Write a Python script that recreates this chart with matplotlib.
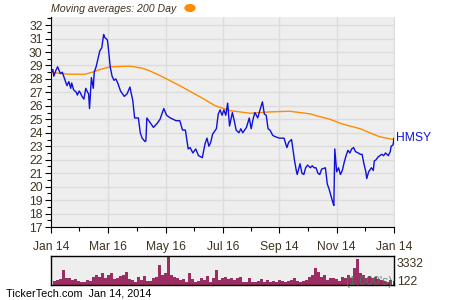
import matplotlib
matplotlib.use("Agg")
import matplotlib.pyplot as plt
import numpy as np

plt.rcParams['font.family'] = ['Liberation Sans', 'DejaVu Sans']

# days since Jan 14, 2013
price_days = [0, 2, 3, 5, 7, 10, 12, 14, 17, 19, 21, 22, 24, 27, 28, 30, 31, 33, 35, 37,
              39, 40, 41, 43, 45, 46, 48, 50, 52, 54, 56, 57, 60, 61, 63, 65, 67, 69, 71, 74,
              78, 81, 84, 87, 89, 93, 95, 97, 100, 101, 102, 105, 109, 113, 116, 120, 123, 127, 130, 133,
              137, 140, 143, 146, 148, 151, 154, 157, 161, 164, 166, 168, 170, 172, 176, 178, 180, 182, 184, 186,
              188, 190, 193, 195, 197, 200, 202, 204, 208, 211, 213, 215, 217, 220, 222, 225, 227, 229, 231, 233,
              236, 239, 243, 246, 248, 251, 253, 256, 259, 261, 262, 265, 267, 269, 271, 273, 276, 278, 280, 282,
              284, 286, 288, 292, 294, 296, 298, 300, 301, 302, 304, 306, 308, 310, 312, 314, 316, 318, 320, 322,
              324, 327, 329, 331, 333, 335, 336, 338, 341, 343, 344, 346, 348, 350, 352, 354, 356, 359, 361, 362,
              364, 365]
price = [28.45, 28.7, 28.2, 28.6, 28.9, 28.4, 28.5, 28.1, 27.5, 27.8, 27.3, 27.7, 27.2, 27.0, 26.8, 27.1, 27.0, 26.7, 26.5, 27.3,
         27.0, 26.9, 25.8, 28.1, 27.3, 28.5, 28.9, 29.5, 30.1, 30.3, 31.3, 31.1, 30.9, 30.3, 28.9, 28.2, 27.9, 28.0, 27.7, 27.1,
         26.7, 26.9, 27.4, 26.4, 25.1, 25.1, 24.0, 23.6, 23.35, 23.4, 25.1, 24.8, 24.4, 24.7, 25.0, 25.8, 25.3, 25.1, 25.0, 24.9,
         24.9, 24.2, 24.2, 22.8, 22.9, 22.5, 22.8, 22.3, 22.15, 23.2, 23.6, 23.0, 23.3, 23.9, 24.3, 25.4, 25.7, 25.3, 25.7, 25.3,
         26.2, 24.5, 25.5, 24.9, 24.2, 24.0, 24.3, 24.0, 24.4, 25.1, 24.3, 25.0, 25.5, 25.1, 25.6, 26.3, 25.4, 25.3, 24.3, 24.2,
         23.8, 23.7, 23.6, 23.6, 23.6, 22.9, 23.3, 23.5, 22.0, 21.2, 20.9, 21.7, 21.0, 20.9, 21.4, 21.6, 21.4, 21.55, 21.4, 21.4,
         21.0, 20.9, 21.3, 21.4, 20.2, 19.8, 19.3, 18.8, 18.6, 22.8, 21.1, 21.4, 20.9, 21.2, 21.8, 22.3, 22.7, 22.5, 22.8, 22.9,
         22.6, 22.5, 22.4, 22.4, 21.7, 21.1, 20.6, 21.1, 21.4, 21.2, 21.9, 22.0, 22.2, 22.3, 22.4, 22.3, 22.5, 22.3, 22.6, 23.0,
         23.1, 23.6]

ma_days = [0, 10, 20, 36, 44, 52, 63, 84, 97, 105, 116, 137, 159, 175, 190, 212, 233, 254, 265, 276,
           286, 297, 308, 318, 329, 339, 350, 361, 365]
ma200 = [28.5, 28.4, 28.35, 28.35, 28.5, 28.7, 28.9, 28.95, 28.8, 28.6, 28.25, 27.5, 26.65, 26.0, 25.65, 25.45, 25.55, 25.6, 25.5, 25.4,
         25.2, 25.0, 24.7, 24.5, 24.3, 24.0, 23.7, 23.55, 23.5]

# volume in thousands
volume = [780, 470, 590, 700, 1750, 860, 860, 590, 700, 470, 390, 310, 590, 470, 975, 1170, 975, 1370, 780, 1170,
          1370, 700, 780, 1090, 1170, 1560, 700, 590, 390, 975, 590, 1090, 470, 470, 780, 975, 2340, 1170, 1370, 3332,
          1170, 975, 780, 590, 700, 390, 1370, 700, 390, 470, 780, 590, 1090, 390, 860, 1750, 590, 780, 975, 700,
          860, 590, 780, 975, 390, 310, 780, 310, 390, 470, 700, 390, 590, 390, 470, 310, 590, 470, 390, 470,
          590, 780, 470, 390, 470, 590, 975, 1170, 1950, 1560, 975, 1170, 590, 780, 860, 700, 470, 975, 780, 1170,
          780, 1950, 3040, 1370, 1170, 780, 1090, 780, 975, 700, 590, 470, 390, 590, 470]

tick_days = [0, 61, 122, 183, 243, 304, 365]
tick_labels = ['Jan 14', 'Mar 16', 'May 16', 'Jul 16', 'Sep 14', 'Nov 14', 'Jan 14']

txt = '#3d3320'
bg = '#eeeeee'
grid = '#dcdcdc'

fig = plt.figure(figsize=(4.5, 3.0), dpi=100)
ax = fig.add_axes([51/450, 1-227/300, 343/450, 210/300])
ax.set_facecolor(bg)
ax.plot(ma_days, ma200, color='#ff8c00', lw=1.0, zorder=3)
ax.plot(price_days, price, color='#1010dd', lw=1.0, zorder=4)
ax.set_xlim(0, 365)
ax.set_ylim(17, 32.6)
ax.set_yticks(range(17, 33))
ax.set_yticks(np.arange(17.5, 32.6, 1), minor=True)
ax.set_xticks(tick_days)
ax.set_xticklabels(tick_labels)
ax.set_xticks([30, 91, 152, 213, 273, 334], minor=True)
ax.grid(True, which='major', color=grid, lw=1.0, zorder=0)
ax.tick_params(axis='y', which='major', length=4, width=0.8, color='black', labelsize=8.7, labelcolor=txt, pad=2)
ax.tick_params(axis='y', which='minor', length=3, width=0.8, color='black')
ax.tick_params(axis='x', which='major', length=4, width=0.8, color='black', labelsize=8.7, labelcolor=txt, pad=6)
ax.tick_params(axis='x', which='minor', length=3, width=0.8, color='black')
ax.spines['top'].set_visible(False)
ax.spines['right'].set_color('#dddddd')
ax.spines['left'].set_color('black')
ax.spines['bottom'].set_color('black')
ax.text(1.007, price[-1], 'HMSY', transform=ax.get_yaxis_transform(), color='#1010dd',
        fontsize=8.7, va='center', ha='left')

fig.text(51/450, 1-9/300, 'Moving averages: 200 Day', style='italic', fontsize=7.6, color=txt, va='center')
fig.patches.append(plt.Circle((190/450, 1-8/300), 5/450, transform=fig.transFigure,
                              color='#ff8c00', figure=fig))

vax = fig.add_axes([51/450, 1-285/300, 343/450, 29/300])
vax.set_facecolor(bg)
vdays = np.linspace(0, 365, len(volume))
vax.bar(vdays, volume, width=365/len(volume), color='#9b2d62', align='center')
vax.set_xlim(0, 365)
vax.set_ylim(0, 3400)
vax.set_xticks([])
vax.set_yticks([])
for s in vax.spines.values():
    s.set_color('black')
    s.set_linewidth(1.0)
vax.text(0.995, 0.12, "(1,000's)", transform=vax.transAxes, ha='right', va='center',
         fontsize=8.7, color='#4a7a5a', alpha=0.8)
fig.text(397/450, 1-264/300, '3332', fontsize=8.7, color=txt, va='center')
fig.text(397/450, 1-282/300, '122', fontsize=8.7, color=txt, va='center')
fig.text(6/450, 1-293/300, 'TickerTech.com  Jan 14, 2014', fontsize=7.8, color='black', va='center')

fig.savefig('out.png', dpi=100)
